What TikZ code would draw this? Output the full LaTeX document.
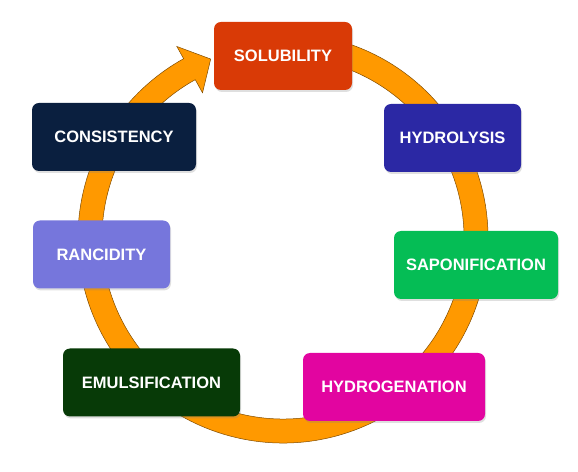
\documentclass[tikz,border=0pt]{standalone}
\usepackage{fontspec}
\setmainfont{Liberation Sans}
\usetikzlibrary{shadows}

\definecolor{solcol}{HTML}{D93A06}
\definecolor{hydcol}{HTML}{2B28A4}
\definecolor{sapcol}{HTML}{05BD55}
\definecolor{hgencol}{HTML}{E205A0}
\definecolor{emulcol}{HTML}{073A07}
\definecolor{ranccol}{HTML}{7676DC}
\definecolor{conscol}{HTML}{0A1F3F}
\definecolor{arrcol}{HTML}{FF9900}

\tikzset{
  prop/.style={rounded corners=7pt, minimum height=68pt, inner sep=0pt,
    text=white, font=\fontsize{16.5}{18}\selectfont\bfseries,
    drop shadow={shadow xshift=1pt, shadow yshift=-2pt, opacity=0.25}},
  cycarrow/.style={fill=arrcol, draw=arrcol!50!black, line width=0.5pt}
}

\begin{document}
\begin{tikzpicture}[x=1pt, y=1pt]
    \useasboundingbox (0,0) rectangle (578,471);

    \coordinate (c) at (283,233);

    % Circular arrow
    \draw[cycarrow] ([shift={(c)}]75:205pt) arc[start angle=75, end angle=-241, radius=205pt]
        -- ([shift={(c)}]-241:219pt) -- ([shift={(c)}]-248:193pt)
        -- ([shift={(c)}]-241:166pt) -- ([shift={(c)}]-241:181pt)
        arc[start angle=-241, end angle=75, radius=181pt] -- cycle;

    % Nodes
    \node[prop, fill=solcol, minimum width=138pt] (sol) at (283,415) {SOLUBILITY};
    \node[prop, fill=hydcol, minimum width=137pt] (hyd) at (452.5,333) {HYDROLYSIS};
    \node[prop, fill=sapcol, minimum width=164pt] (sap) at (476,206) {SAPONIFICATION};
    \node[prop, fill=hgencol, minimum width=182pt] (hgen) at (394,84) {HYDROGENATION};
    \node[prop, fill=emulcol, minimum width=177pt] (emul) at (151.5,88.5) {EMULSIFICATION};
    \node[prop, fill=ranccol, minimum width=137pt] (ranc) at (101.5,216.5) {RANCIDITY};
    \node[prop, fill=conscol, minimum width=164pt] (cons) at (114,334) {CONSISTENCY};
\end{tikzpicture}
\end{document}
